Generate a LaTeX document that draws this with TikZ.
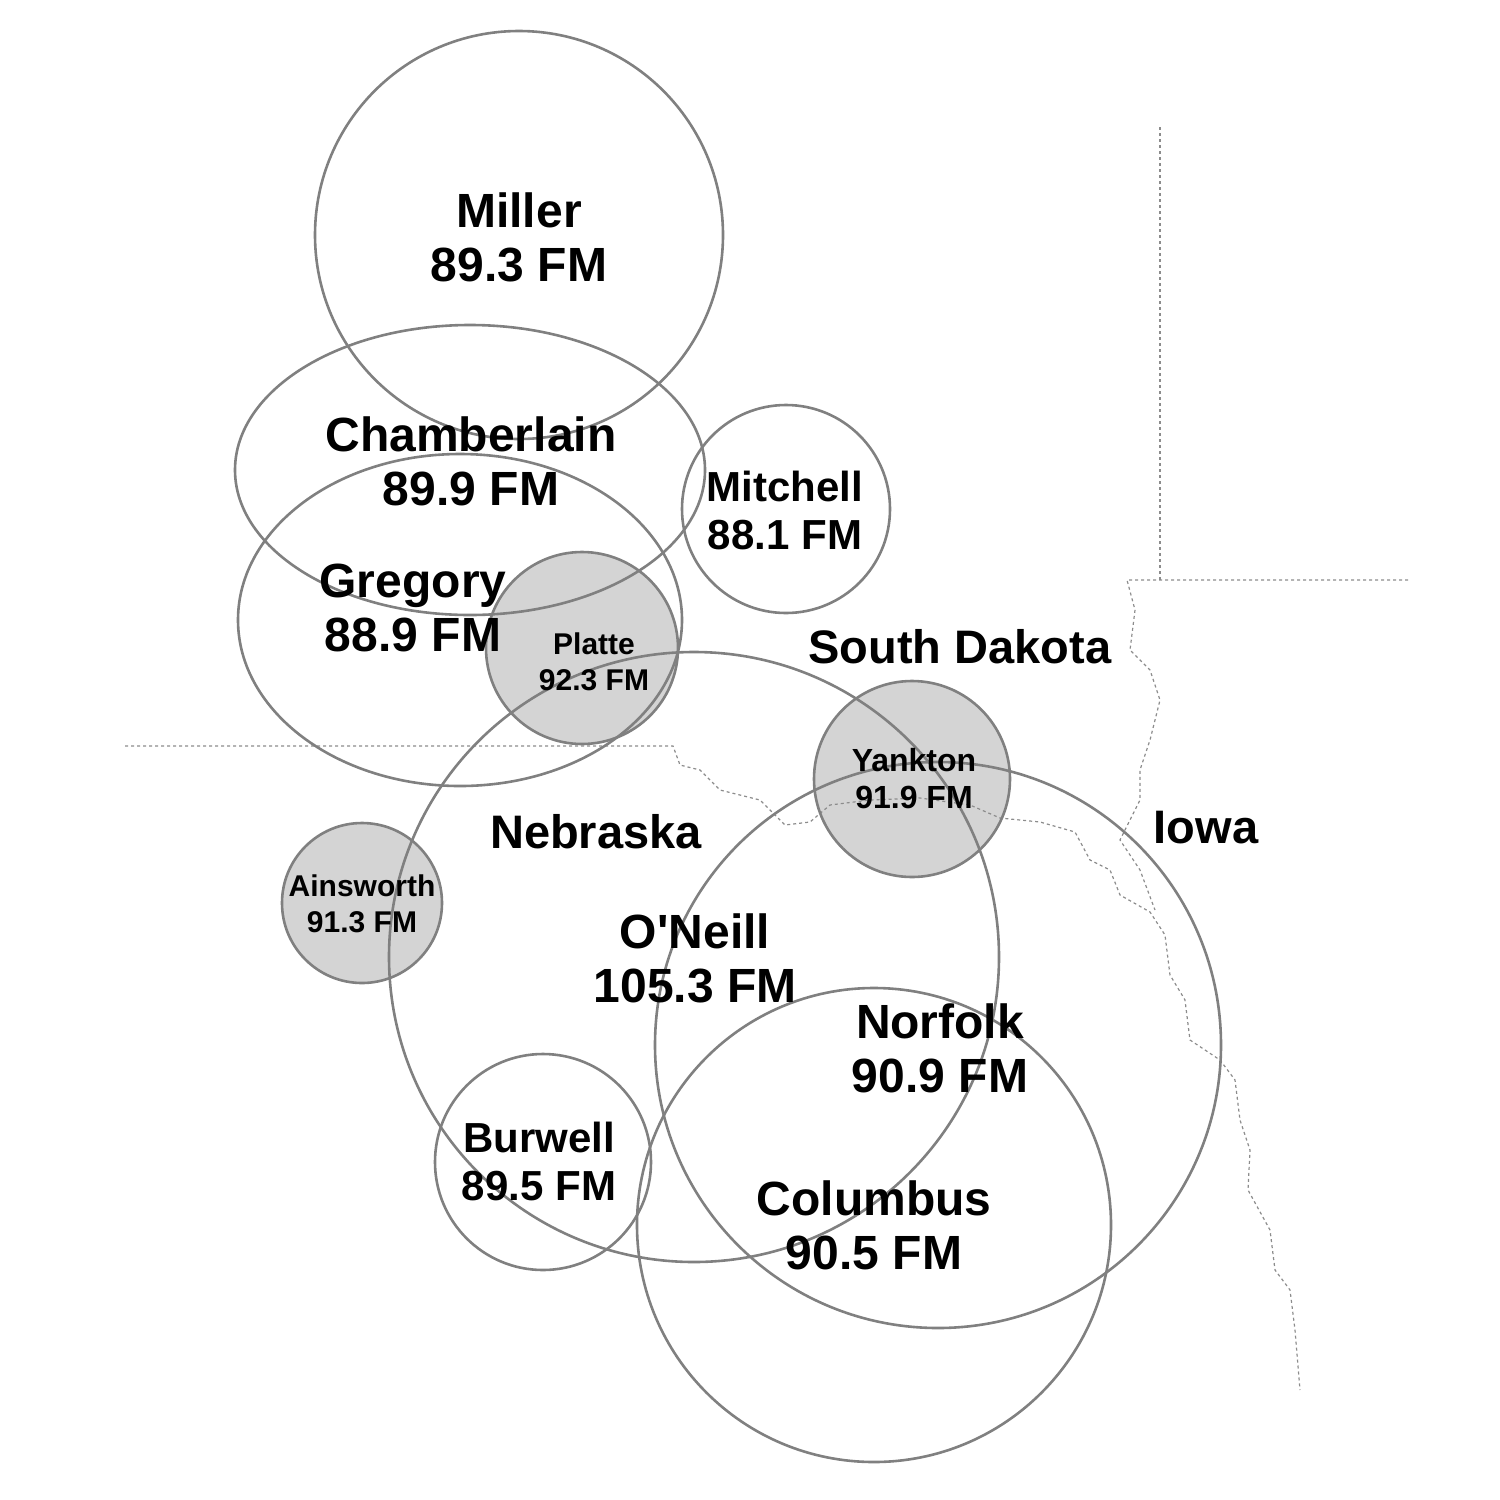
\documentclass[tikz,border=0pt]{standalone}
\usepackage{fontspec}
\setmainfont{Liberation Sans}
\begin{document}
\begin{tikzpicture}[x=1pt,y=-1pt,
  ring/.style={draw=black!50,line width=2.6pt},
  disc/.style={fill=black!17},
  big/.style={font=\bfseries\fontsize{48}{54}\selectfont,align=center},
  small/.style={font=\bfseries\fontsize{32}{37}\selectfont,align=center},
  region/.style={font=\bfseries\fontsize{47}{54}\selectfont},
  border/.style={draw=black!45,dashed,line width=1.2pt}]
\useasboundingbox (0,0) rectangle (1500,1500);
% fills
\fill[disc] (582,648) circle (96);
\fill[disc] (912,779) circle (98);
\fill[disc] (362,903) circle (80);
% borders
\draw[border] (125,746) -- (673,746) -- (680,765) -- (700,770) -- (720,790) -- (760,800) -- (785,825) -- (810,822) -- (830,805) -- (870,800) -- (920,798) -- (970,805) -- (1000,818) -- (1040,822) -- (1075,832) -- (1090,860) -- (1110,870) -- (1120,895) -- (1150,912) -- (1165,935) -- (1170,975) -- (1185,1000) -- (1190,1040) -- (1220,1060) -- (1235,1080) -- (1240,1120) -- (1250,1150) -- (1248,1190) -- (1270,1230) -- (1275,1270) -- (1290,1290) -- (1295,1330) -- (1300,1390);
\draw[border] (1160,127) -- (1160,580);
\draw[border] (1408,580) -- (1127,580) -- (1135,610) -- (1130,650) -- (1150,670) -- (1160,700) -- (1150,740) -- (1140,770) -- (1140,800) -- (1120,840) -- (1140,870) -- (1155,910);
% rings
\draw[ring] (519,235) circle (204);
\draw[ring] (470,470) ellipse (235 and 145);
\draw[ring] (460,620) ellipse (222 and 166);
\draw[ring] (786,509) circle (104);
\draw[ring] (582,648) circle (96);
\draw[ring] (694,957) circle (305);
\draw[ring] (912,779) circle (98);
\draw[ring] (938,1045) circle (283);
\draw[ring] (362,903) circle (80);
\draw[ring] (543,1162) circle (108);
\draw[ring] (874,1225) circle (237);
% labels
\node[big] (miller) at (519,237) {Miller\\89.3 FM};
\node[big] (cham) at (471,461) {Chamberlain\\89.9 FM};
\node[big] (greg) at (413,608) {Gregory\\88.9 FM};
\node[big,font=\bfseries\fontsize{42}{48}\selectfont] (mitch) at (785,510) {Mitchell\\88.1 FM};
\node[small,font=\bfseries\fontsize{30}{36}\selectfont] (platte) at (594,662) {Platte\\92.3 FM};
\node[small] (yank) at (914,779) {Yankton\\91.9 FM};
\node[small,font=\bfseries\fontsize{30}{36}\selectfont] (ains) at (362,904) {Ainsworth\\91.3 FM};
\node[big] (oneill) at (695,958) {O\textquotesingle Neill\\105.3 FM};
\node[big] (norf) at (940,1048) {Norfolk\\90.9 FM};
\node[big,font=\bfseries\fontsize{42}{48}\selectfont] (burw) at (539,1161) {Burwell\\89.5 FM};
\node[big] (colu) at (874,1225) {Columbus\\90.5 FM};
\node[region] (sd) at (960,647) {South Dakota};
\node[region] (ne) at (596,832) {Nebraska};
\node[region] (ia) at (1206,828) {Iowa};
\end{tikzpicture}
\end{document}
